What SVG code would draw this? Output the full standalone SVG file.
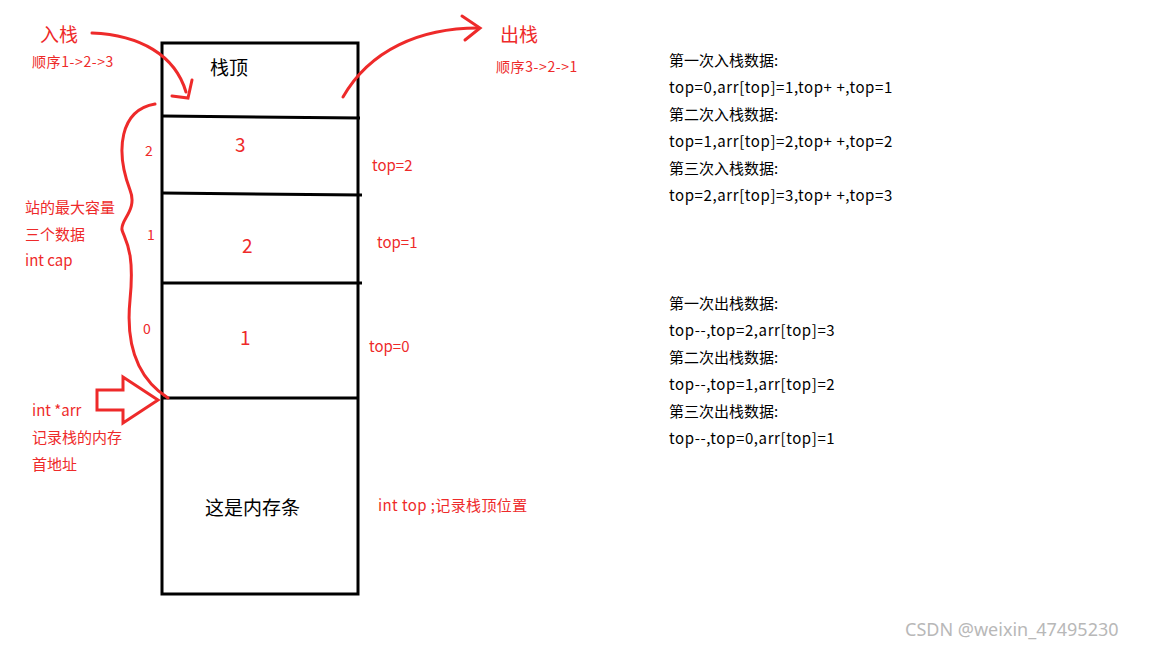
<svg xmlns="http://www.w3.org/2000/svg" width="1152" height="648" viewBox="0 0 1152 648">
<style>
.r{fill:#ee2a2a;font-family:"Microsoft YaHei","Noto Sans CJK SC",sans-serif}
.k{fill:#000;font-family:"Microsoft YaHei","Noto Sans CJK SC",sans-serif}
.ln{stroke:#000;stroke-width:3;fill:none}
.rl{stroke:#ee2a2a;stroke-width:3;fill:none;stroke-linecap:round}
</style>
<rect width="1152" height="648" fill="#fff"/>
<g id="stack">
<rect x="162" y="43" width="196" height="551" class="ln"/>
<line x1="162" y1="116" x2="360" y2="118" class="ln"/>
<line x1="162" y1="193" x2="362" y2="195" class="ln"/>
<line x1="162" y1="283" x2="362" y2="283" class="ln"/>
<line x1="162" y1="398" x2="358" y2="398" class="ln"/>
<text x="210" y="75" class="k" font-size="19">栈顶</text>
<text x="235" y="152" class="r" font-size="19">3</text>
<text x="242" y="253" class="r" font-size="19">2</text>
<text x="240" y="345" class="r" font-size="19">1</text>
<text x="205" y="515" class="k" font-size="19">这是内存条</text>
</g>
<g id="connectors">
<path d="M92,33 C140,35 175,55 186,92" class="rl"/>
<path d="M172,96 L188,98 L192,80" class="rl"/>
<path d="M343,97 C370,50 420,28 478,28" class="rl"/>
<path d="M462,16 L480,28 L465,40" class="rl"/>
<path d="M155,104 C120,110 115,150 130,190 C138,210 120,220 122,230 C125,240 135,250 130,300 C125,350 140,380 168,398" class="rl"/>
<path d="M97,390 L123,390 L123,377 L158,400 L123,423 L123,410 L97,410 Z" stroke="#ee2a2a" stroke-width="3" fill="none"/>
</g>
<g id="labels">
<text x="40" y="42" class="r" font-size="19">入栈</text>
<text x="32" y="67" class="r" font-size="14" letter-spacing="0.6">顺序1-&gt;2-&gt;3</text>
<text x="500" y="42" class="r" font-size="19">出栈</text>
<text x="496" y="72" class="r" font-size="14" letter-spacing="0.6">顺序3-&gt;2-&gt;1</text>
<text x="145" y="156" class="r" font-size="14">2</text>
<text x="147" y="240" class="r" font-size="14">1</text>
<text x="143" y="334" class="r" font-size="14">0</text>
<text x="372" y="171" class="r" font-size="15">top=2</text>
<text x="377" y="248" class="r" font-size="15">top=1</text>
<text x="369" y="352" class="r" font-size="15">top=0</text>
<text x="25" y="213" class="r" font-size="15">站的最大容量</text>
<text x="25" y="240" class="r" font-size="15">三个数据</text>
<text x="25" y="266" class="r" font-size="15">int cap</text>
<text x="32" y="416" class="r" font-size="15">int *arr</text>
<text x="32" y="443" class="r" font-size="15">记录栈的内存</text>
<text x="32" y="470" class="r" font-size="15">首地址</text>
<text x="378" y="511" class="r" font-size="15" letter-spacing="0.4">int top ;记录栈顶位置</text>
</g>
<g id="notes" font-size="15">
<text x="669" y="66" class="k">第一次入栈数据:</text>
<text x="669" y="93" class="k" letter-spacing="0.6">top=0,arr[top]=1,top+ +,top=1</text>
<text x="669" y="120" class="k">第二次入栈数据:</text>
<text x="669" y="147" class="k" letter-spacing="0.6">top=1,arr[top]=2,top+ +,top=2</text>
<text x="669" y="174" class="k">第三次入栈数据:</text>
<text x="669" y="201" class="k" letter-spacing="0.6">top=2,arr[top]=3,top+ +,top=3</text>
<text x="669" y="309" class="k">第一次出栈数据:</text>
<text x="669" y="336" class="k" letter-spacing="0.6">top--,top=2,arr[top]=3</text>
<text x="669" y="363" class="k">第二次出栈数据:</text>
<text x="669" y="390" class="k" letter-spacing="0.6">top--,top=1,arr[top]=2</text>
<text x="669" y="417" class="k">第三次出栈数据:</text>
<text x="669" y="444" class="k" letter-spacing="0.6">top--,top=0,arr[top]=1</text>
</g>
<text x="905" y="636" font-size="18" fill="#b8b8b8" font-family="Noto Sans, sans-serif">CSDN @weixin_47495230</text>
</svg>
